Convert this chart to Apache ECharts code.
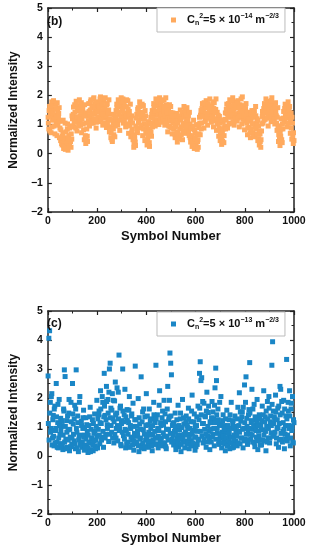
<!DOCTYPE html>
<html><head><meta charset="utf-8">
<script src="https://cdn.jsdelivr.net/npm/echarts@6/dist/echarts.min.js"></script>
<style>html,body{margin:0;padding:0;background:#fff}#chart{width:310px;height:550px}</style>
</head><body><div id="chart"></div>
<script>
// ---- data ----
const xTickValues = [0, 200, 400, 600, 800, 1000];
const yTickValues = [-2, -1, 0, 1, 2, 3, 4, 5];
const panelLabels = ['(b)', '(c)'];
const seriesNames = ['Cn2=5e-14', 'Cn2=5e-13'];
const symbolStep = 3;   // each array holds every 3rd symbol number
const symbolStartA = 1; // arrays "A": symbols 1, 4, 7, ..., 1000
const symbolStartB = 2; // arrays "B": symbols 2, 5, 8, ..., 998

const intensityB_A = [
 1.25,0.85,1.62,1.41,0.72,1.78,1.15,1.52,0.95,1.33,1.70,1.08,0.62,1.45,1.21,1.58,0.88,
 0.45,1.12,0.30,0.72,0.18,0.55,1.05,0.25,0.40,0.85,0.12,0.62,0.35,0.95,0.22,0.50,1.20,
 1.35,0.92,1.68,1.22,1.80,0.78,1.48,1.10,1.62,1.30,0.98,1.75,1.18,1.55,0.82,0.48,1.40,
 0.35,1.05,0.60,1.28,1.72,0.95,1.50,1.85,1.20,1.62,1.05,1.92,1.38,1.70,0.88,1.55,1.25,
 1.78,1.10,1.45,1.95,1.30,1.65,0.98,1.82,1.22,1.58,1.40,0.90,1.72,1.15,1.50,0.75,1.35,
 0.55,0.88,0.42,1.05,0.65,1.25,0.95,1.48,1.70,1.12,1.85,1.35,0.80,1.62,1.92,1.20,1.55,
 1.05,1.75,1.38,0.92,1.60,1.25,1.82,0.70,1.45,1.10,0.58,1.30,0.85,0.48,0.22,0.65,0.40,
 0.95,1.35,0.72,1.58,1.15,1.78,0.88,1.42,1.20,0.62,1.65,1.02,0.45,1.30,0.80,0.30,0.55,
 1.10,0.38,0.85,1.25,0.60,1.48,1.05,1.72,1.32,0.95,1.88,1.45,1.15,1.65,1.00,1.92,1.40,
 1.70,1.08,1.55,1.25,1.85,0.98,1.42,1.68,1.18,0.75,1.52,1.30,0.92,1.62,1.12,0.68,1.40,
 0.85,1.20,0.55,0.98,1.38,0.40,0.75,1.15,0.60,1.50,0.90,1.28,0.48,1.05,1.62,0.70,1.35,
 1.10,1.58,0.82,1.30,0.62,1.02,0.40,0.85,0.25,0.55,1.15,0.18,0.72,0.35,1.00,0.15,0.48,
 0.90,1.25,0.65,1.48,1.05,1.72,1.30,0.88,1.60,1.15,1.82,1.40,0.98,1.68,1.22,1.88,1.50,
 1.08,1.62,1.35,0.92,1.75,1.20,1.52,0.80,1.42,1.05,0.60,1.28,0.45,0.85,0.32,0.70,1.10,
 0.38,0.95,1.40,1.15,1.70,0.88,1.55,1.30,1.85,1.05,1.62,1.25,1.92,1.45,0.98,1.78,1.35,
 1.60,1.12,1.82,1.40,0.92,1.68,1.25,1.50,1.95,1.18,1.58,0.82,1.35,1.72,1.05,0.65,1.42,
 0.90,1.25,0.55,1.15,1.48,0.72,1.02,1.35,0.60,1.62,0.85,1.20,0.45,0.95,0.30,0.68,0.22,
 0.78,1.28,1.05,1.55,1.72,1.18,1.88,1.40,1.62,0.95,1.80,1.35,1.52,1.10,1.92,1.25,1.68,
 1.45,1.02,1.75,1.30,0.80,1.58,0.42,0.95,0.28,0.60,1.20,0.38,0.85,1.45,1.08,1.70,1.32,
 1.55,0.92,1.78,1.25,1.62,0.70,1.40,0.50,1.05,0.35,0.45
];

const intensityB_B = [
 1.05,1.48,0.78,1.30,1.65,0.92,1.40,1.82,1.18,0.68,1.55,1.25,1.75,0.98,1.38,0.55,1.12,
 0.82,0.35,0.60,1.15,0.28,0.48,0.15,0.75,0.38,1.02,0.52,0.25,0.88,0.42,0.68,1.30,0.95,
 1.60,1.08,1.42,0.88,1.72,1.25,1.52,0.95,1.85,1.15,1.45,0.72,1.62,1.02,1.30,1.68,0.62,
 0.52,0.85,0.42,1.12,1.45,1.30,1.78,1.05,1.58,1.35,1.88,1.18,1.52,1.75,1.08,1.42,1.65,
 1.25,1.62,1.88,1.15,1.48,1.72,1.35,1.05,1.55,1.92,1.28,1.68,1.02,1.40,1.85,1.18,0.92,
 0.72,0.48,1.15,0.85,1.35,0.58,1.02,1.25,1.58,0.98,1.42,1.68,1.15,1.78,1.30,1.48,1.88,
 1.40,1.15,1.62,1.28,1.85,1.02,1.52,1.32,0.95,1.70,1.18,0.75,1.05,0.62,0.38,0.52,0.28,
 1.22,0.80,1.52,1.05,1.40,1.62,1.28,0.98,1.70,1.35,0.85,1.18,1.48,0.70,0.95,0.48,0.72,
 0.62,0.25,1.02,0.75,1.35,0.92,1.22,1.58,1.15,1.45,1.65,1.08,1.78,1.32,1.55,1.22,1.72,
 1.35,1.82,1.18,1.48,1.62,1.28,1.92,1.05,1.40,1.22,0.95,1.68,1.15,1.42,0.88,1.28,1.05,
 1.15,0.68,0.92,1.28,0.72,1.05,0.52,1.30,0.85,1.18,0.65,1.42,0.95,0.78,1.25,1.48,0.92,
 1.32,0.95,1.15,0.72,1.42,0.55,0.88,0.62,0.45,0.95,0.32,0.82,0.52,0.28,0.65,0.42,0.22,
 0.68,1.05,1.32,0.85,1.55,1.28,1.45,1.75,1.10,1.38,1.58,1.25,1.72,1.35,1.48,1.62,1.18,
 1.45,1.25,1.78,1.55,1.12,1.40,1.88,1.18,1.02,1.32,0.88,1.05,0.72,1.15,0.58,0.42,0.85,
 0.62,1.18,0.85,1.52,1.38,1.25,1.72,1.02,1.48,1.65,1.32,1.80,1.10,1.55,1.68,1.22,1.58,
 1.35,1.75,1.22,1.58,1.28,1.45,1.88,1.02,1.38,1.65,1.30,1.12,1.55,1.25,1.42,0.88,1.18,
 1.12,0.72,1.38,0.85,1.02,1.25,0.58,1.48,0.92,1.30,1.05,0.68,1.15,0.52,0.78,0.42,0.48,
 1.02,1.45,1.32,1.15,1.62,1.48,1.58,1.22,1.75,1.38,1.55,1.68,1.25,1.82,1.42,1.55,1.30,
 1.18,1.58,1.42,1.05,1.25,0.95,0.65,0.55,0.72,0.85,0.48,1.02,1.22,1.18,1.55,1.38,1.62,
 1.22,1.45,1.05,1.52,1.32,1.15,0.88,1.25,0.62,0.72
];

const intensityC_A = [
 2.76,4.06,4.32,1.85,0.95,2.15,0.62,1.40,0.35,1.72,0.88,2.50,0.48,1.15,0.28,1.95,0.75,
 1.30,0.42,1.05,0.22,1.62,2.97,2.74,0.58,1.22,0.30,0.90,1.48,0.18,0.65,1.85,0.40,2.50,
 1.10,0.52,1.75,0.25,2.97,0.82,1.38,0.15,0.68,2.05,0.45,1.20,0.30,0.95,1.58,0.20,0.72,
 1.32,0.38,0.85,0.12,1.05,0.48,1.68,0.22,0.60,1.25,0.18,0.78,1.45,0.35,0.55,1.92,0.28,
 0.92,1.55,0.42,2.25,1.12,0.65,1.85,0.30,2.85,1.40,0.75,2.40,1.08,1.95,0.50,3.00,3.20,
 1.65,0.82,2.15,1.28,0.45,1.90,2.55,0.62,1.48,1.05,2.20,3.48,0.95,1.72,0.35,1.22,3.00,
 0.70,1.42,2.30,0.28,0.88,1.60,0.48,1.15,2.05,0.32,0.95,1.38,0.55,1.82,0.20,0.78,3.10,
 1.25,0.42,0.85,1.98,0.15,1.10,0.62,2.73,0.38,1.52,0.90,0.25,1.35,0.55,2.15,0.72,1.08,
 0.30,1.62,0.48,0.95,1.28,0.18,0.75,1.85,0.40,1.15,3.13,0.62,1.42,0.28,0.88,2.25,0.50,
 1.05,0.35,1.55,0.80,1.92,0.45,1.18,0.25,0.68,2.40,0.92,1.35,3.55,3.20,2.80,0.58,1.12,
 0.38,0.85,1.48,0.22,1.02,0.60,1.75,0.32,0.90,1.28,0.15,0.72,1.95,0.48,1.10,0.28,0.82,
 1.38,0.42,0.98,1.65,0.25,0.75,1.18,0.52,2.10,0.35,0.88,1.45,0.20,0.65,1.05,0.40,1.72,
 0.58,2.85,3.25,2.60,2.70,1.12,0.45,1.82,0.92,1.35,0.30,2.20,0.68,1.50,0.85,0.22,1.15,
 0.48,1.88,0.75,1.28,0.35,2.35,3.03,2.60,0.95,1.62,0.40,1.10,0.62,2.05,0.28,0.82,1.42,
 0.55,1.05,0.18,0.78,1.58,0.38,0.92,1.25,0.25,0.65,1.85,0.45,1.12,0.30,0.72,1.38,0.50,
 1.02,0.35,1.68,0.85,2.18,0.42,1.20,0.62,1.52,0.28,0.95,2.45,0.58,2.73,1.30,0.40,0.88,
 1.60,3.22,0.75,1.15,2.30,0.48,0.92,1.78,0.32,1.25,0.65,1.95,0.22,0.85,1.42,0.55,1.08,
 0.38,1.72,0.90,2.25,0.52,1.35,0.18,1.02,1.88,0.62,2.05,0.45,1.18,0.80,3.13,3.94,1.55,
 0.70,1.28,2.10,0.42,0.95,1.65,0.30,1.12,2.40,2.30,0.58,1.48,0.85,1.92,0.25,0.75,1.38,
 3.33,0.52,1.85,1.05,2.25,0.35,1.62,0.88,2.05,0.45,1.15
];

const intensityC_B = [
 1.12,0.55,1.48,0.82,2.05,0.38,1.25,0.68,1.62,0.45,0.95,1.35,0.30,1.78,0.62,1.05,0.42,
 0.88,1.22,0.35,0.72,1.55,0.48,1.02,0.25,0.82,1.38,0.55,1.95,0.92,0.32,1.18,0.62,1.45,
 0.75,1.28,0.42,1.62,0.95,0.28,1.15,0.55,1.85,0.38,0.72,1.05,0.48,1.32,0.65,0.98,0.35,
 0.58,1.08,0.28,0.72,0.45,1.35,0.15,0.92,0.62,0.38,1.12,0.52,0.85,0.25,1.02,0.68,1.28,
 1.42,0.72,1.15,1.62,0.55,2.05,0.85,1.35,1.72,0.62,1.25,1.88,0.95,1.48,2.20,0.75,1.32,
 1.05,1.58,0.62,1.92,1.18,0.75,1.42,0.95,2.35,0.52,1.28,0.88,1.65,0.40,1.12,0.82,1.55,
 1.18,0.58,0.92,1.35,0.42,1.22,0.75,1.58,0.30,1.05,0.65,1.45,0.38,1.02,0.52,1.25,0.68,
 0.48,1.02,0.72,0.35,1.32,0.58,0.92,0.28,1.18,0.45,1.62,0.75,0.32,1.05,0.62,1.38,0.45,
 0.82,0.52,1.22,0.72,0.35,1.05,0.55,1.42,0.85,0.62,1.28,0.42,0.95,0.68,1.75,0.38,1.15,
 0.62,1.32,0.45,1.08,0.68,1.45,0.32,0.92,1.62,0.55,1.25,1.92,0.78,1.38,0.48,1.05,0.72,
 1.15,0.52,0.88,0.35,1.25,0.72,0.45,1.05,0.58,1.48,0.40,0.98,0.62,1.32,0.75,0.52,1.18,
 0.72,1.05,0.48,1.28,0.62,0.95,0.38,1.55,0.78,0.45,1.18,0.65,1.02,0.32,1.35,0.85,0.55,
 1.25,1.65,0.85,1.42,0.68,1.88,1.12,0.58,1.38,0.75,1.55,0.48,1.02,1.72,0.62,1.18,0.92,
 1.32,0.65,1.52,0.95,1.75,1.15,0.58,1.42,0.78,1.25,0.52,1.85,0.72,1.05,0.45,1.22,0.68,
 0.92,0.42,1.28,0.62,0.35,1.05,0.52,0.78,1.42,0.45,0.95,0.28,1.22,0.58,1.02,0.38,0.85,
 0.68,1.28,0.45,1.05,0.82,1.52,0.62,1.35,0.92,1.68,0.52,1.15,1.85,0.75,1.02,0.55,1.42,
 0.95,1.48,0.58,1.22,0.72,1.62,1.05,0.45,1.35,0.88,1.18,0.52,1.05,0.68,1.28,0.38,0.92,
 1.22,0.55,1.42,0.72,1.18,0.85,1.55,0.48,1.28,0.95,1.65,0.62,1.38,1.05,1.78,0.68,1.12,
 1.35,0.82,1.52,0.62,1.25,0.98,1.72,0.55,1.42,0.78,1.88,0.48,1.15,0.92,1.62,1.05,0.58,
 1.28,0.72,1.55,0.95,1.38,0.62,1.82,1.02,0.48,1.25
];

// ---- chart ----
const FONT = '"Liberation Sans", Arial, sans-serif';
const colors = ['#FFAA5E', '#1A86C6'];
const grids = [
  {left: 41, top: 8, width: 253, height: 204},
  {left: 41, top: 311, width: 253, height: 203}
];
const legendExps = ['−14', '−13'];

function pairs(valsA, valsB) {
  const out = [];
  valsA.forEach((v, i) => out.push([symbolStartA + i * symbolStep, v]));
  valsB.forEach((v, i) => out.push([symbolStartB + i * symbolStep, v]));
  return out;
}

const xMin = xTickValues[0], xMax = xTickValues[xTickValues.length - 1];
const xInt = xTickValues[1] - xTickValues[0];
const yMin = yTickValues[0], yMax = yTickValues[yTickValues.length - 1];
const yInt = yTickValues[1] - yTickValues[0];

const axisLine = {show: true, onZero: false, lineStyle: {color: '#222', width: 1.5}};
const tickStyle = {inside: true, length: 4, lineStyle: {color: '#222', width: 1.2}};
const minorStyle = {show: true, splitNumber: 2, length: 2.5, lineStyle: {color: '#222', width: 1}};
const labelFont = {fontFamily: FONT, fontWeight: 'bold', fontSize: 10.5, color: '#111'};

const xAxes = [], yAxes = [];
grids.forEach((g, gi) => {
  xAxes.push({
    type: 'value', gridIndex: gi, position: 'bottom', min: xMin, max: xMax, interval: xInt,
    axisLine, axisTick: tickStyle, minorTick: minorStyle, splitLine: {show: false},
    axisLabel: Object.assign({margin: 4, formatter: v => String(v)}, labelFont),
    name: 'Symbol Number', nameLocation: 'middle', nameGap: 18,
    nameTextStyle: {fontFamily: FONT, fontWeight: 'bold', fontSize: 13, color: '#111'}
  });
  xAxes.push({
    type: 'value', gridIndex: gi, position: 'top', min: xMin, max: xMax, interval: xInt,
    axisLine, axisTick: tickStyle, minorTick: minorStyle, splitLine: {show: false},
    axisLabel: {show: false}
  });
  yAxes.push({
    type: 'value', gridIndex: gi, position: 'left', min: yMin, max: yMax, interval: yInt,
    axisLine, axisTick: tickStyle, minorTick: minorStyle, splitLine: {show: false},
    axisLabel: Object.assign({margin: 5, formatter: v => String(v).replace('-', '−')}, labelFont),
    name: 'Normalized Intensity', nameLocation: 'middle', nameGap: 26, nameRotate: 90,
    nameTextStyle: {fontFamily: FONT, fontWeight: 'bold', fontSize: 12, color: '#111'}
  });
  yAxes.push({
    type: 'value', gridIndex: gi, position: 'right', min: yMin, max: yMax, interval: yInt,
    axisLine, axisTick: tickStyle, minorTick: minorStyle, splitLine: {show: false},
    axisLabel: {show: false}
  });
});

const base = {fontFamily: FONT, fontWeight: 'bold', color: '#111'};
const richStyles = {
  t: Object.assign({fontSize: 11, lineHeight: 14, verticalAlign: 'middle'}, base),
  p: Object.assign({fontSize: 11, lineHeight: 14, verticalAlign: 'middle', padding: [0, 0, 0, 6]}, base),
  sup: Object.assign({fontSize: 7, lineHeight: 8, verticalAlign: 'top'}, base),
  sub: Object.assign({fontSize: 7, lineHeight: 8, verticalAlign: 'bottom'}, base)
};

const legends = grids.map((g, gi) => ({
  data: [seriesNames[gi]],
  left: 157, top: g.top + (gi === 0 ? 0 : 1),
  orient: 'horizontal',
  icon: 'rect', itemWidth: 5, itemHeight: 5,
  padding: [5, 6, 5, 14],
  borderColor: '#bbb', borderWidth: 1, backgroundColor: '#fff',
  selectedMode: false,
  formatter: () => '{p|C}{sub|n}{sup|2}{t|=5 × 10}{sup|' + legendExps[gi] + '}{t| m}{sup|−2/3}',
  textStyle: {rich: richStyles}
}));

const titles = panelLabels.map((t, gi) => ({
  text: t, left: 47, top: grids[gi].top + (gi === 0 ? 8 : 7),
  padding: 0,
  textStyle: {fontFamily: FONT, fontWeight: 'bold', fontSize: 12, color: '#111'}
}));

const series = [[intensityB_A, intensityB_B], [intensityC_A, intensityC_B]].map((arrs, gi) => ({
  type: 'scatter', name: seriesNames[gi],
  xAxisIndex: gi * 2, yAxisIndex: gi * 2,
  symbol: 'rect', symbolSize: 5,
  itemStyle: {color: colors[gi], opacity: 1},
  data: pairs(arrs[0], arrs[1]),
  animation: false
}));

const chart = echarts.init(document.getElementById('chart'), null, {renderer: 'canvas'});
chart.setOption({
  backgroundColor: '#fff',
  animation: false,
  title: titles,
  grid: grids,
  xAxis: xAxes,
  yAxis: yAxes,
  legend: legends,
  series
});
</script>
</body></html>
